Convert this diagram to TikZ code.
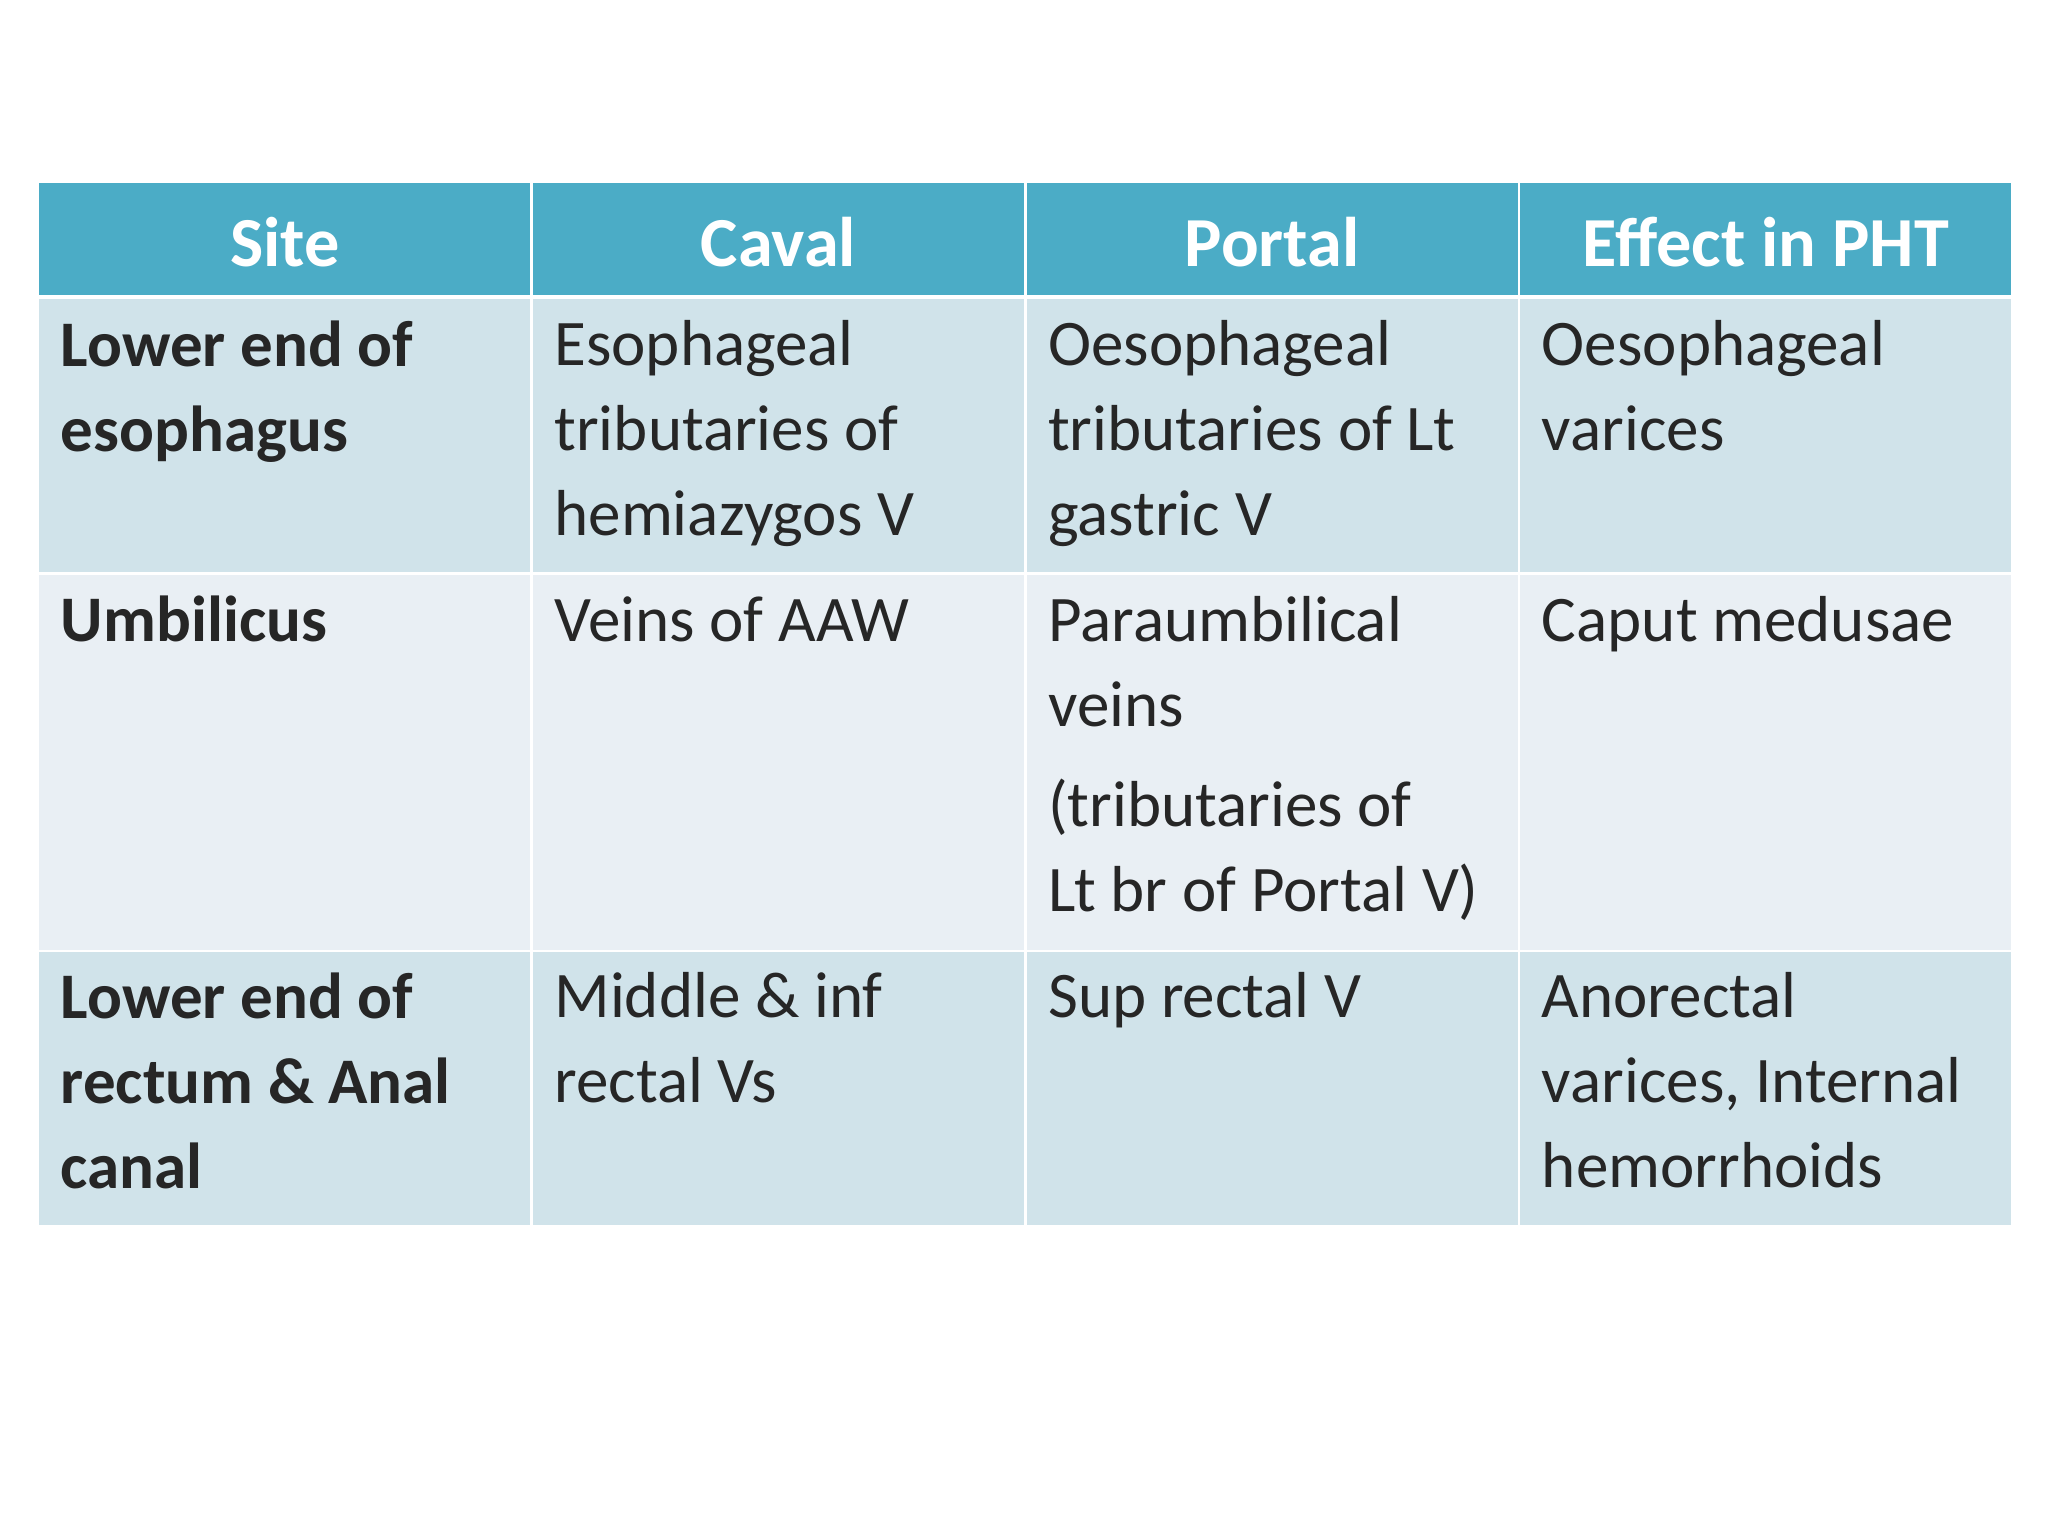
\documentclass[tikz,border=0pt]{standalone}
\usepackage{fontspec}
\setmainfont{Carlito}
\definecolor{hdr}{HTML}{4BACC6}
\definecolor{rowA}{HTML}{D0E3EA}
\definecolor{rowB}{HTML}{E9EFF4}
\begin{document}
\begin{tikzpicture}[x=0.013061cm,y=-0.013061cm,
  cell/.style={anchor=north west,inner sep=0pt,align=left,font=\fontsize{18.5pt}{24.2pt}\selectfont,text=black!85},
  head/.style={inner sep=0pt,font=\fontsize{20pt}{24pt}\selectfont\bfseries,text=white}]
\useasboundingbox[fill=white] (0,0) rectangle (1568,1176);
% header
\foreach \a/\b in {30/406,408/784,786/1162,1164/1540}{
  \fill[hdr] (\a,140) rectangle (\b,226);
  \fill[rowA] (\a,229) rectangle (\b,438);
  \fill[rowB] (\a,440) rectangle (\b,727);
  \fill[rowA] (\a,729) rectangle (\b,938);
}
\node[head] (h1) at (218,185) {Site};
\node[head] (h2) at (596,185) {Caval};
\node[head] (h3) at (974,185) {Portal};
\node[head] (h4) at (1352,185) {Effect in PHT};
% row 1
\node[cell,font=\fontsize{18.5pt}{24.2pt}\selectfont\bfseries] (a1) at (46,245) {Lower end of\\esophagus};
\node[cell] (b1) at (424,245) {Esophageal\\tributaries of\\hemiazygos V};
\node[cell] (c1) at (802,245) {Oesophageal\\tributaries of Lt\\gastric V};
\node[cell] (d1) at (1180,245) {Oesophageal\\varices};
% row 2
\node[cell,font=\fontsize{18.5pt}{24.2pt}\selectfont\bfseries] (a2) at (46,456) {Umbilicus};
\node[cell] (b2) at (424,456) {Veins of AAW};
\node[cell] (c2) at (802,456) {Paraumbilical\\veins};
\node[cell] (c2b) at (802,596) {(tributaries of\\Lt br of Portal V)};
\node[cell] (d2) at (1180,456) {Caput medusae};
% row 3
\node[cell,font=\fontsize{18.5pt}{24.2pt}\selectfont\bfseries] (a3) at (46,744) {Lower end of\\rectum \& Anal\\canal};
\node[cell] (b3) at (424,744) {Middle \& inf\\rectal Vs};
\node[cell] (c3) at (802,744) {Sup rectal V};
\node[cell] (d3) at (1180,744) {Anorectal\\varices, Internal\\hemorrhoids};
\end{tikzpicture}
\end{document}
